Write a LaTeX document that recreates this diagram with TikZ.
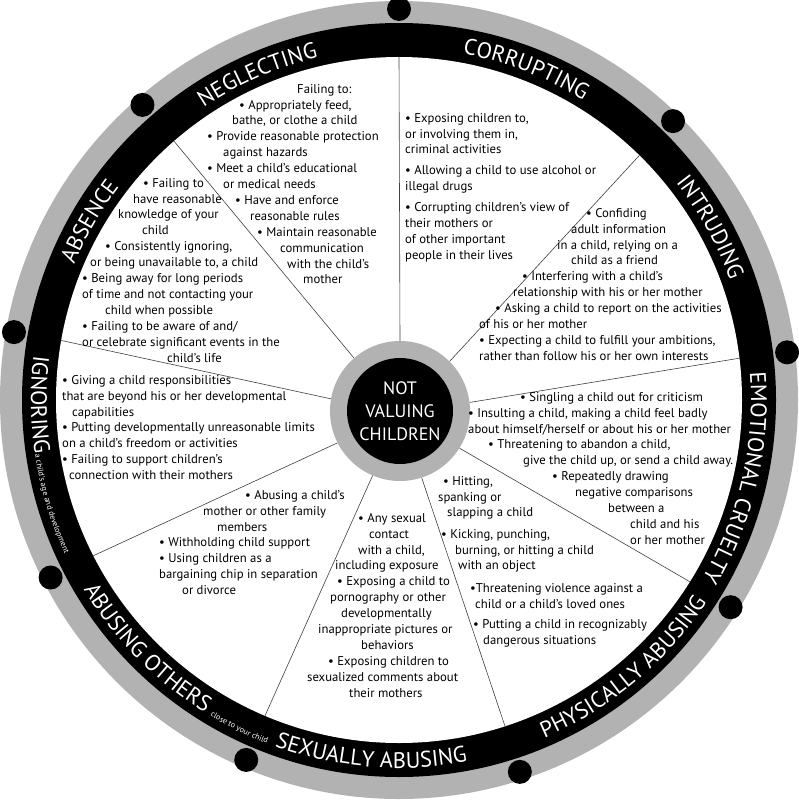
\documentclass[tikz,border=0pt]{standalone}
\usepackage{fontspec}
\setmainfont{PT Sans}
\usetikzlibrary{decorations.text}
\definecolor{ringgray}{RGB}{178,178,178}
\newcommand\ringfont{\fontsize{22.5}{23}\selectfont}
\newcommand\smallring{\fontsize{8}{8}\selectfont}
\tikzset{
  txt/.style={font=\fontsize{12.7}{15.9}\selectfont, inner sep=0pt, align=left, anchor=north west},
  spoke/.style={draw=black!75, line width=0.6pt},
  cwlabel/.style={decorate, decoration={text along path, text color=white, text align=center, text={|\ringfont|#1}}},
  ccwlabel/.style={decorate, decoration={text along path, text color=white, text align=center, text={|\ringfont|#1}}},
  leftlabel/.style={decorate, decoration={text along path, text color=white, text={#1}}}
}
\begin{document}
\begin{tikzpicture}[x=1pt,y=-1pt]
        \useasboundingbox (0,0) rectangle (798,800);
        \coordinate (W) at (399,400);
        \fill[ringgray] (W) circle[radius=399pt];
        \fill[black] (W) circle[radius=377pt];
        \fill[white] (W) circle[radius=343pt];
        \node[circle, fill=ringgray, minimum size=140pt, inner sep=0pt] (hub) at (400,411) {};
        \foreach \a in {90,131,170,207,247,288,328,7,45.5}
            \draw[spoke] (hub.\a) -- ([shift={(\a:343pt)}]W);
        \node[circle, fill=black, minimum size=106pt, inner sep=0pt, text=white, align=center,
            font=\fontsize{18}{23}\selectfont] (core) at (hub) {NOT\\VALUING\\CHILDREN};
        \foreach \a in {90,131,170,207,247,288,328,7,45.5}
            \fill ([shift={(\a:391pt)}]W) circle[radius=12pt];
        \path[cwlabel=NEGLECTING] ([shift={(128:352pt)}]W) arc[start angle=128, end angle=99, radius=352pt];
        \path[cwlabel=CORRUPTING] ([shift={(84:352pt)}]W) arc[start angle=84, end angle=54, radius=352pt];
        \path[cwlabel=INTRUDING] ([shift={(44:352pt)}]W) arc[start angle=44, end angle=14, radius=352pt];
        \path[cwlabel=EMOTIONAL CRUELTY] ([shift={(10:352pt)}]W) arc[start angle=10, end angle=-36, radius=352pt];
        \path[cwlabel=ABSENCE] ([shift={(165:352pt)}]W) arc[start angle=165, end angle=135, radius=352pt];
        \path[ccwlabel=PHYSICALLY ABUSING] ([shift={(286:368pt)}]W) arc[start angle=286, end angle=334, radius=368pt];
        \path[ccwlabel=SEXUALLY ABUSING] ([shift={(246:368pt)}]W) arc[start angle=246, end angle=285, radius=368pt];
        \path[leftlabel={|\ringfont|ABUSING OTHERS |\smallring|close to your child}] ([shift={(211:368pt)}]W) arc[start angle=211, end angle=252, radius=368pt];
        \path[leftlabel={|\ringfont|IGNORING|\smallring|a child's age and development}] ([shift={(173:368pt)}]W) arc[start angle=173, end angle=212, radius=368pt];
        \node[txt] (neglect) at (207,84) {\hspace*{90pt}Failing to:\\\hspace*{32pt}• Appropriately feed,\\\hspace*{25pt}bathe, or clothe a child\\• Provide reasonable protection\\\hspace*{16pt}against hazards\\• Meet a child's educational\\\hspace*{16pt}or medical needs\\\hspace*{28pt}• Have and enforce\\\hspace*{43pt}reasonable rules\\\hspace*{50pt}• Maintain reasonable\\\hspace*{73pt}communication\\\hspace*{80pt}with the child's\\\hspace*{96pt}mother};
        \node[txt] (absence) at (82,178) {\hspace*{61pt}• Failing to\\\hspace*{51pt}have reasonable\\\hspace*{36pt}knowledge of your\\\hspace*{60pt}child\\\hspace*{23pt}• Consistently ignoring,\\\hspace*{8pt}or being unavailable to, a child\\• Being away for long periods\\of time and not contacting your\\\hspace*{23pt}child when possible\\• Failing to be aware of and/\\or celebrate significant events in the\\\hspace*{85pt}child's life};
        \node[txt] (ignoring) at (62,375) {• Giving a child responsibilities\\that are beyond his or her developmental\\\hspace*{10pt}capabilities\\• Putting developmentally unreasonable limits\\on a child's freedom or activities\\• Failing to support children's\\\hspace*{7pt}connection with their mothers};
        \node[txt] (abother) at (159,490) {\hspace*{86pt}• Abusing a child's\\\hspace*{44pt}mother or other family\\\hspace*{58pt}members\\• Withholding child support\\• Using children as a\\bargaining chip in separation\\\hspace*{23pt}or divorce};
        \node[txt] (sexual) at (307,513) {\hspace*{51pt}• Any sexual\\\hspace*{62pt}contact\\\hspace*{51pt}with a child,\\\hspace*{28pt}including exposure\\\hspace*{30pt}• Exposing a child to\\\hspace*{23pt}pornography or other\\\hspace*{34pt}developmentally\\\hspace*{11pt}inappropriate pictures or\\\hspace*{54pt}behaviors\\\hspace*{21pt}• Exposing children to\\sexualized comments about\\\hspace*{42pt}their mothers};
        \node[txt] (phys1) at (438,476) {\hspace*{5pt}• Hitting,\\spanking or\\\hspace*{9pt}slapping a child};
        \node[txt] (phys2) at (441,529) {• Kicking, punching,\\\hspace*{14pt}burning, or hitting a child\\\hspace*{17pt}with an object};
        \node[txt] (phys3) at (470,583) {•Threatening violence against a\\\hspace*{5pt}child or a child's loved ones};
        \node[txt] (phys4) at (473,619) {• Putting a child in recognizably\\\hspace*{10pt}dangerous situations};
        \node[txt] (emotional) at (468,392) {\hspace*{52pt}• Singling a child out for criticism\\• Insulting a child, making a child feel badly\\about himself/herself or about his or her mother\\\hspace*{20pt}• Threatening to abandon a child,\\\hspace*{55pt}give the child up, or send a child away.\\\hspace*{84pt}• Repeatedly drawing\\\hspace*{107pt}negative comparisons\\\hspace*{140pt}between a\\\hspace*{162pt}child and his\\\hspace*{162pt}or her mother};
        \node[txt] (intruding) at (479,208) {\hspace*{107pt}• Confiding\\\hspace*{92pt}adult information\\\hspace*{78pt}in a child, relying on a\\\hspace*{92pt}child as a friend\\\hspace*{43pt}• Interfering with a child's\\\hspace*{34pt}relationship with his or her mother\\\hspace*{16pt}• Asking a child to report on the activities\\of his or her mother\\• Expecting a child to fulfill your ambitions,\\rather than follow his or her own interests};
        \node[txt] (corrupting) at (405,113) {• Exposing children to,\\or involving them in,\\criminal activities\\[5pt]• Allowing a child to use alcohol or\\illegal drugs\\[5pt]• Corrupting children's view of\\their mothers or\\of other important\\people in their lives};
\end{tikzpicture}
\end{document}
